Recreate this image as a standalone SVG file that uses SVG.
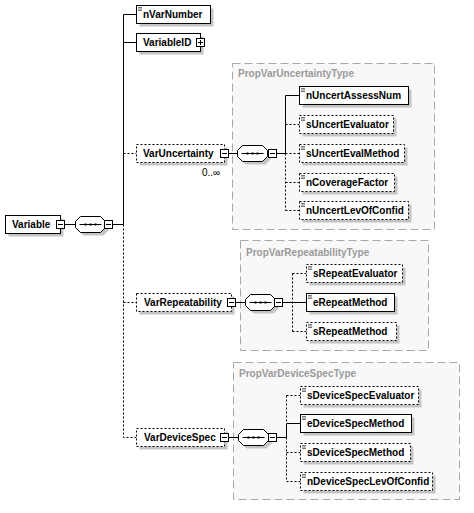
<svg xmlns="http://www.w3.org/2000/svg" xmlns:xlink="http://www.w3.org/1999/xlink" width="474" height="513" viewBox="0 0 474 513">
<style>
.el{fill:#fff;stroke:#000;stroke-width:1}
.opt{stroke-dasharray:2,2}
.sh{fill:#c4c4c4;stroke:none}
.grp{fill:#f8f8f8;stroke:#a8a8a8;stroke-width:1;stroke-dasharray:8,4}
.gt{font-family:"Liberation Sans",Arial,sans-serif;font-weight:bold;font-size:10px;fill:#9a9a9a}
.t{font-family:"Liberation Sans",Arial,sans-serif;font-weight:bold;font-size:10px;fill:#000}
.card{font-family:"Liberation Sans",Arial,sans-serif;font-size:10px;fill:#000}
.ln{stroke:#000;stroke-width:1;fill:none}
.dl{stroke:#000;stroke-width:1;fill:none;stroke-dasharray:2,2}
.btn{fill:#fff;stroke:#000;stroke-width:1}
.ico{stroke:#555;stroke-width:0.8;fill:none}
</style>
<defs>
<g id="ico"><path class="ico" d="M1,1.5h4M1,3h4M1,4.5h4"/></g>
<g id="minus"><rect class="btn" x="0" y="0" width="8" height="8"/><path class="ln" d="M1.5,4h5"/></g>
<g id="plus"><rect class="btn" x="0" y="0" width="8" height="8"/><path class="ln" d="M1.5,4h5M4,1.5v5"/></g>
<g id="seq">
<path class="sh" d="M8,3h20l5,5v6l-5,5h-20l-5,-5v-6z"/>
<path fill="#fff" stroke="#000" d="M5,0h20l5,5v6l-5,5h-20l-5,-5v-6z"/>
<path class="ln" d="M4,8h22"/>
<rect x="9" y="7" width="2" height="2" fill="#000"/><rect x="14" y="7" width="2" height="2" fill="#000"/><rect x="19" y="7" width="2" height="2" fill="#000"/>
</g>
</defs>
<rect width="474" height="513" fill="#fff"/>

<g id="groups">
<rect class="grp" x="232.5" y="63.5" width="202" height="166"/>
<text class="gt" x="238" y="77">PropVarUncertaintyType</text>
<rect class="grp" x="240.5" y="240.5" width="188" height="110"/>
<text class="gt" x="246" y="256">PropVarRepeatabilityType</text>
<rect class="grp" x="233.5" y="362.5" width="226" height="137"/>
<text class="gt" x="239" y="377">PropVarDeviceSpecType</text>
</g>

<g id="connectors">
<path class="ln" d="M64.5,224.5H75.5M112.5,224.5H123.5"/>
<path class="ln" d="M123.5,14.5V224.5M123.5,14.5H136.5M123.5,42.5H136.5"/>
<path class="dl" d="M123.5,224.5V437.5H136.5M123.5,153.5H136.5M123.5,302.5H136.5"/>
<path class="ln" d="M228.5,153.5H237.5M276.5,153.5H285.5M285.5,95.5V153.5M285.5,95.5H299.5"/>
<path class="dl" d="M285.5,153.5V210.5M285.5,124.5H299.5M285.5,153.5H299.5M285.5,182.5H299.5M285.5,210.5H299.5"/>
<path class="ln" d="M235.5,302.5H245.5M282.5,302.5H306.5"/>
<path class="dl" d="M292.5,273.5V331.5M292.5,273.5H306.5M292.5,331.5H306.5"/>
<path class="ln" d="M228.5,437.5H238.5M276.5,437.5H286.5M286.5,423.5V437.5M286.5,423.5H300.5"/>
<path class="dl" d="M286.5,395.5V423.5M286.5,437.5V481.5M286.5,395.5H300.5M286.5,452.5H300.5M286.5,481.5H300.5"/>
</g>

<g id="Variable">
<rect class="sh" x="8.5" y="218.5" width="55" height="18"/>
<rect class="el" x="5.5" y="215.5" width="55" height="18"/>
<text class="t" x="12" y="228">Variable</text>
<use xlink:href="#minus" x="56.5" y="220.5"/>
</g>
<g id="seq-Variable">
<use xlink:href="#seq" x="75.5" y="216.5"/>
<use xlink:href="#minus" x="104.5" y="220.5"/>
</g>

<g id="nVarNumber">
<rect class="sh" x="139.5" y="8.5" width="74" height="18"/>
<rect class="el" x="136.5" y="5.5" width="74" height="18"/>
<use xlink:href="#ico" x="137" y="6"/>
<text class="t" x="143" y="18">nVarNumber</text>
</g>
<g id="VariableID">
<rect class="sh" x="139.5" y="36.5" width="64" height="18"/>
<rect class="el" x="136.5" y="33.5" width="64" height="18"/>
<text class="t" x="143" y="46">VariableID</text>
<use xlink:href="#plus" x="196.5" y="38.5"/>
</g>

<g id="VarUncertainty">
<rect class="sh" x="139.5" y="147.5" width="88" height="18"/>
<rect class="el opt" x="136.5" y="144.5" width="88" height="18"/>
<text class="t" x="143" y="157">VarUncertainty</text>
<use xlink:href="#minus" x="220.5" y="149.5"/>
<text class="card" x="202" y="176">0..∞</text>
</g>
<g id="seq-Uncertainty">
<use xlink:href="#seq" x="237.5" y="145.5"/>
<use xlink:href="#minus" x="268.5" y="149.5"/>
</g>
<g id="nUncertAssessNum">
<rect class="sh" x="302.5" y="89.5" width="109" height="18"/>
<rect class="el" x="299.5" y="86.5" width="109" height="18"/>
<use xlink:href="#ico" x="300" y="87"/>
<text class="t" x="306" y="99">nUncertAssessNum</text>
</g>
<g id="sUncertEvaluator">
<rect class="sh" x="302.5" y="118.5" width="94" height="18"/>
<rect class="el opt" x="299.5" y="115.5" width="94" height="18"/>
<use xlink:href="#ico" x="300" y="116"/>
<text class="t" x="306" y="128">sUncertEvaluator</text>
</g>
<g id="sUncertEvalMethod">
<rect class="sh" x="302.5" y="147.5" width="105" height="18"/>
<rect class="el opt" x="299.5" y="144.5" width="105" height="18"/>
<use xlink:href="#ico" x="300" y="145"/>
<text class="t" x="306" y="157">sUncertEvalMethod</text>
</g>
<g id="nCoverageFactor">
<rect class="sh" x="302.5" y="176.5" width="95" height="18"/>
<rect class="el opt" x="299.5" y="173.5" width="95" height="18"/>
<use xlink:href="#ico" x="300" y="174"/>
<text class="t" x="306" y="186">nCoverageFactor</text>
</g>
<g id="nUncertLevOfConfid">
<rect class="sh" x="302.5" y="204.5" width="109" height="18"/>
<rect class="el opt" x="299.5" y="201.5" width="109" height="18"/>
<use xlink:href="#ico" x="300" y="202"/>
<text class="t" x="306" y="214">nUncertLevOfConfid</text>
</g>

<g id="VarRepeatability">
<rect class="sh" x="139.5" y="296.5" width="95" height="18"/>
<rect class="el opt" x="136.5" y="293.5" width="95" height="18"/>
<text class="t" x="144" y="306">VarRepeatability</text>
<use xlink:href="#minus" x="227.5" y="298.5"/>
</g>
<g id="seq-Repeatability">
<use xlink:href="#seq" x="245.5" y="294.5"/>
<use xlink:href="#minus" x="274.5" y="298.5"/>
</g>
<g id="sRepeatEvaluator">
<rect class="sh" x="309.5" y="267.5" width="96" height="18"/>
<rect class="el opt" x="306.5" y="264.5" width="96" height="18"/>
<use xlink:href="#ico" x="307" y="265"/>
<text class="t" x="313" y="277">sRepeatEvaluator</text>
</g>
<g id="eRepeatMethod">
<rect class="sh" x="309.5" y="296.5" width="88" height="18"/>
<rect class="el" x="306.5" y="293.5" width="88" height="18"/>
<use xlink:href="#ico" x="307" y="294"/>
<text class="t" x="313" y="306">eRepeatMethod</text>
</g>
<g id="sRepeatMethod">
<rect class="sh" x="309.5" y="325.5" width="90" height="18"/>
<rect class="el opt" x="306.5" y="322.5" width="90" height="18"/>
<use xlink:href="#ico" x="307" y="323"/>
<text class="t" x="313" y="335">sRepeatMethod</text>
</g>

<g id="VarDeviceSpec">
<rect class="sh" x="139.5" y="431.5" width="88" height="18"/>
<rect class="el opt" x="136.5" y="428.5" width="88" height="18"/>
<text class="t" x="144" y="441">VarDeviceSpec</text>
<use xlink:href="#minus" x="220.5" y="433.5"/>
</g>
<g id="seq-DeviceSpec">
<use xlink:href="#seq" x="238.5" y="429.5"/>
<use xlink:href="#minus" x="268.5" y="433.5"/>
</g>
<g id="sDeviceSpecEvaluator">
<rect class="sh" x="303.5" y="389.5" width="118" height="18"/>
<rect class="el opt" x="300.5" y="386.5" width="118" height="18"/>
<use xlink:href="#ico" x="301" y="387"/>
<text class="t" x="307" y="399">sDeviceSpecEvaluator</text>
</g>
<g id="eDeviceSpecMethod">
<rect class="sh" x="303.5" y="417.5" width="111" height="18"/>
<rect class="el" x="300.5" y="414.5" width="111" height="18"/>
<use xlink:href="#ico" x="301" y="415"/>
<text class="t" x="307" y="427">eDeviceSpecMethod</text>
</g>
<g id="sDeviceSpecMethod">
<rect class="sh" x="303.5" y="446.5" width="110" height="18"/>
<rect class="el opt" x="300.5" y="443.5" width="110" height="18"/>
<use xlink:href="#ico" x="301" y="444"/>
<text class="t" x="307" y="456">sDeviceSpecMethod</text>
</g>
<g id="nDeviceSpecLevOfConfid">
<rect class="sh" x="303.5" y="475.5" width="132" height="18"/>
<rect class="el opt" x="300.5" y="472.5" width="132" height="18"/>
<use xlink:href="#ico" x="301" y="473"/>
<text class="t" x="307" y="485">nDeviceSpecLevOfConfid</text>
</g>
</svg>
